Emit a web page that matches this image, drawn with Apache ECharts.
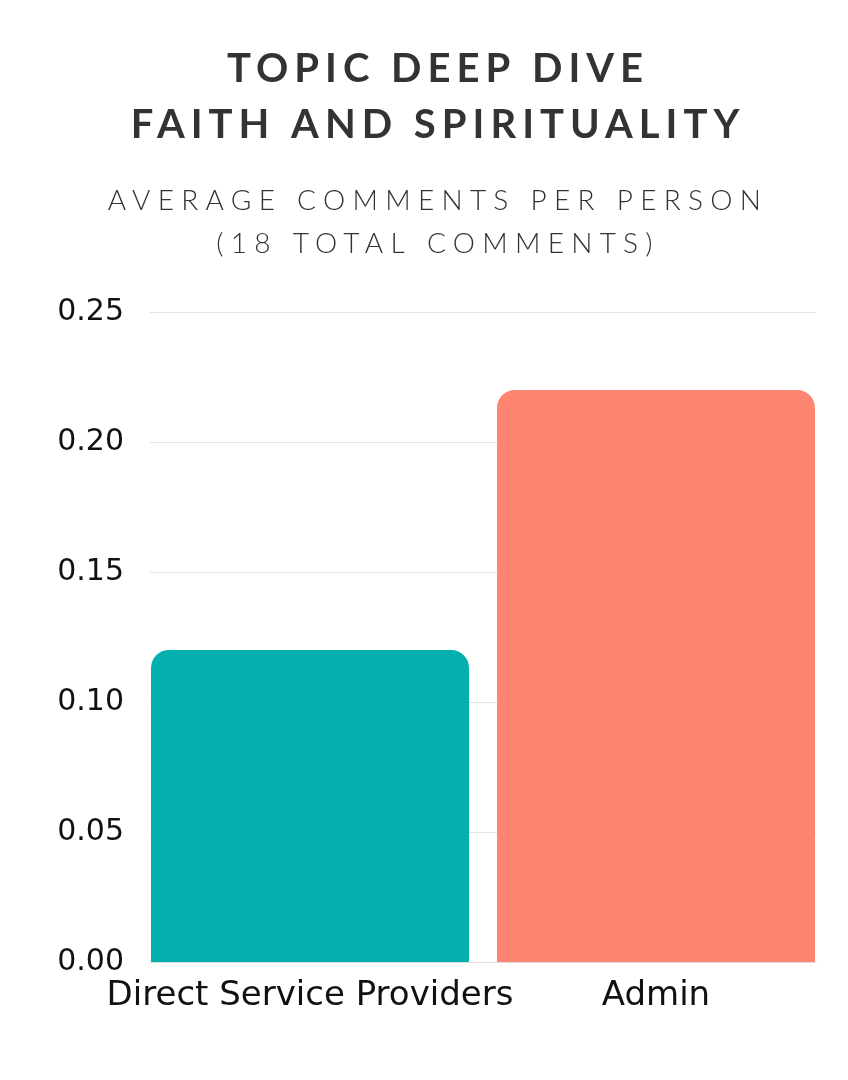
<!DOCTYPE html>
<html>
<head>
<meta charset="utf-8">
<script src="https://cdn.jsdelivr.net/npm/echarts@6/dist/echarts.min.js"></script>
<style>
html, body { margin: 0; padding: 0; background: #fff; }
#main { width: 848px; height: 1080px; }
</style>
</head>
<body>
<div id="main"></div>
<script>
// data
let categories = ['Direct Service Providers', 'Admin'];
let values = [0.12, 0.22];
let yTicks = [0, 0.05, 0.10, 0.15, 0.20, 0.25];

let barColors = ['#03b0ae', '#fd8572'];

// echarts has no letter spacing, so give the title texts some via the canvas
let _fillText = CanvasRenderingContext2D.prototype.fillText;
CanvasRenderingContext2D.prototype.fillText = function (t, x, y, m) {
	let f = this.font;
	let ls = '0px';
	if (f.indexOf('Lato') >= 0) {
		if (/\b40px/.test(f)) ls = '6px';
		else if (/\b28px/.test(f)) ls = '7.3px';
	}
	this.letterSpacing = ls;
	return m === undefined ? _fillText.call(this, t, x, y) : _fillText.call(this, t, x, y, m);
};

let chartDom = document.getElementById('main');
let myChart = echarts.init(chartDom, null, { renderer: 'canvas' });

// one bar per group, side by side, each named after its category
let series = categories.map((name, i) => ({
	name: name,
	type: 'bar',
	barWidth: 318,
	barGap: '8.8%',
	data: [values[i]],
	itemStyle: { color: barColors[i], borderRadius: [18, 18, 0, 0] },
	label: {
		show: true,
		position: 'bottom',
		distance: 17,
		formatter: '{a}',
		fontFamily: 'DejaVu Sans',
		fontSize: 34,
		color: '#111'
	}
}));

let option = {
	animation: false,
	backgroundColor: '#fff',
	title: [{
		text: 'TOPIC DEEP DIVE\nFAITH AND SPIRITUALITY',
		left: 438,
		textAlign: 'center',
		top: 41,
		padding: 0,
		textStyle: {
			fontFamily: 'Lato',
			fontWeight: 'bold',
			fontSize: 40,
			lineHeight: 56,
			color: '#333'
		}
	}, {
		text: 'AVERAGE COMMENTS PER PERSON\n(18 TOTAL COMMENTS)',
		left: 438,
		textAlign: 'center',
		top: 179,
		padding: 0,
		textStyle: {
			fontFamily: 'Lato',
			fontWeight: 300,
			fontSize: 28,
			lineHeight: 43,
			color: '#333'
		}
	}],
	grid: {
		left: 150,
		right: 32,
		top: 312,
		bottom: 118
	},
	xAxis: {
		type: 'category',
		data: [''],
		axisLine: { show: true, lineStyle: { color: '#e0e0e0' } },
		axisTick: { show: false },
		axisLabel: { show: false }
	},
	yAxis: {
		type: 'value',
		min: 0,
		max: yTicks[yTicks.length - 1],
		interval: 0.05,
		axisLine: { show: false },
		axisTick: { show: false },
		splitLine: { lineStyle: { color: '#e3e3e3', width: 1 } },
		axisLabel: {
			margin: 26,
			fontFamily: 'DejaVu Sans',
			fontSize: 30,
			color: '#111',
			formatter: (v) => v.toFixed(2)
		}
	},
	series: series
};

myChart.setOption(option);
</script>
</body>
</html>
